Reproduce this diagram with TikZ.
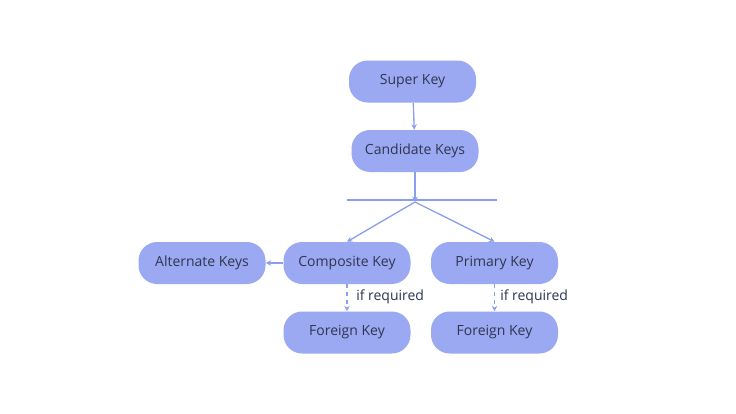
\documentclass[tikz,border=0pt]{standalone}
\usepackage{fontspec}
\setmainfont{Open Sans}
\usetikzlibrary{arrows.meta}
\definecolor{boxc}{HTML}{9AA9F2}
\definecolor{linec}{HTML}{8C9FEE}
\definecolor{txt}{HTML}{2E3650}
\begin{document}
\begin{tikzpicture}[x=0.75pt,y=-0.75pt,
 keybox/.style={fill=boxc,rounded corners=14pt,minimum width=127*0.75pt,minimum height=42*0.75pt,text=txt,font=\fontsize{10.5}{12}\selectfont,inner sep=0pt},
 conn/.style={draw=linec,line width=1pt,-{Stealth[length=4pt,width=4pt]}},
 dconn/.style={conn,dashed},
 lbl/.style={text=txt,font=\fontsize{10.5}{12}\selectfont,anchor=west,inner sep=0pt}]
\useasboundingbox[fill=white] (0,0) rectangle (736,414);
\node[keybox] (super) at (412.5,81.5) {Super Key};
\node[keybox] (cand) at (415,151) {Candidate Keys};
\node[keybox] (alt) at (202,263) {Alternate Keys};
\node[keybox] (comp) at (347,263) {Composite Key};
\node[keybox] (prim) at (494.5,263) {Primary Key};
\node[keybox] (fk1) at (347,332.5) {Foreign Key};
\node[keybox] (fk2) at (494.5,332.5) {Foreign Key};
\coordinate (hl) at (347,200);
\coordinate (hr) at (497,200);
\coordinate (split) at (415,202);
\draw[conn] (super) -- (cand);
\draw[draw=linec,line width=1pt] (hl) -- (hr);
\draw[conn] (cand) -- (split);
\draw[conn] (split) -- (comp.north);
\draw[conn] (split) -- (prim.north);
\draw[conn] (comp) -- (alt);
\draw[dconn] (comp) -- (fk1);
\draw[dconn] (prim) -- (fk2);
\node[lbl] (l1) at (356,297) {if required};
\node[lbl] (l2) at (500,297) {if required};
\end{tikzpicture}
\end{document}
